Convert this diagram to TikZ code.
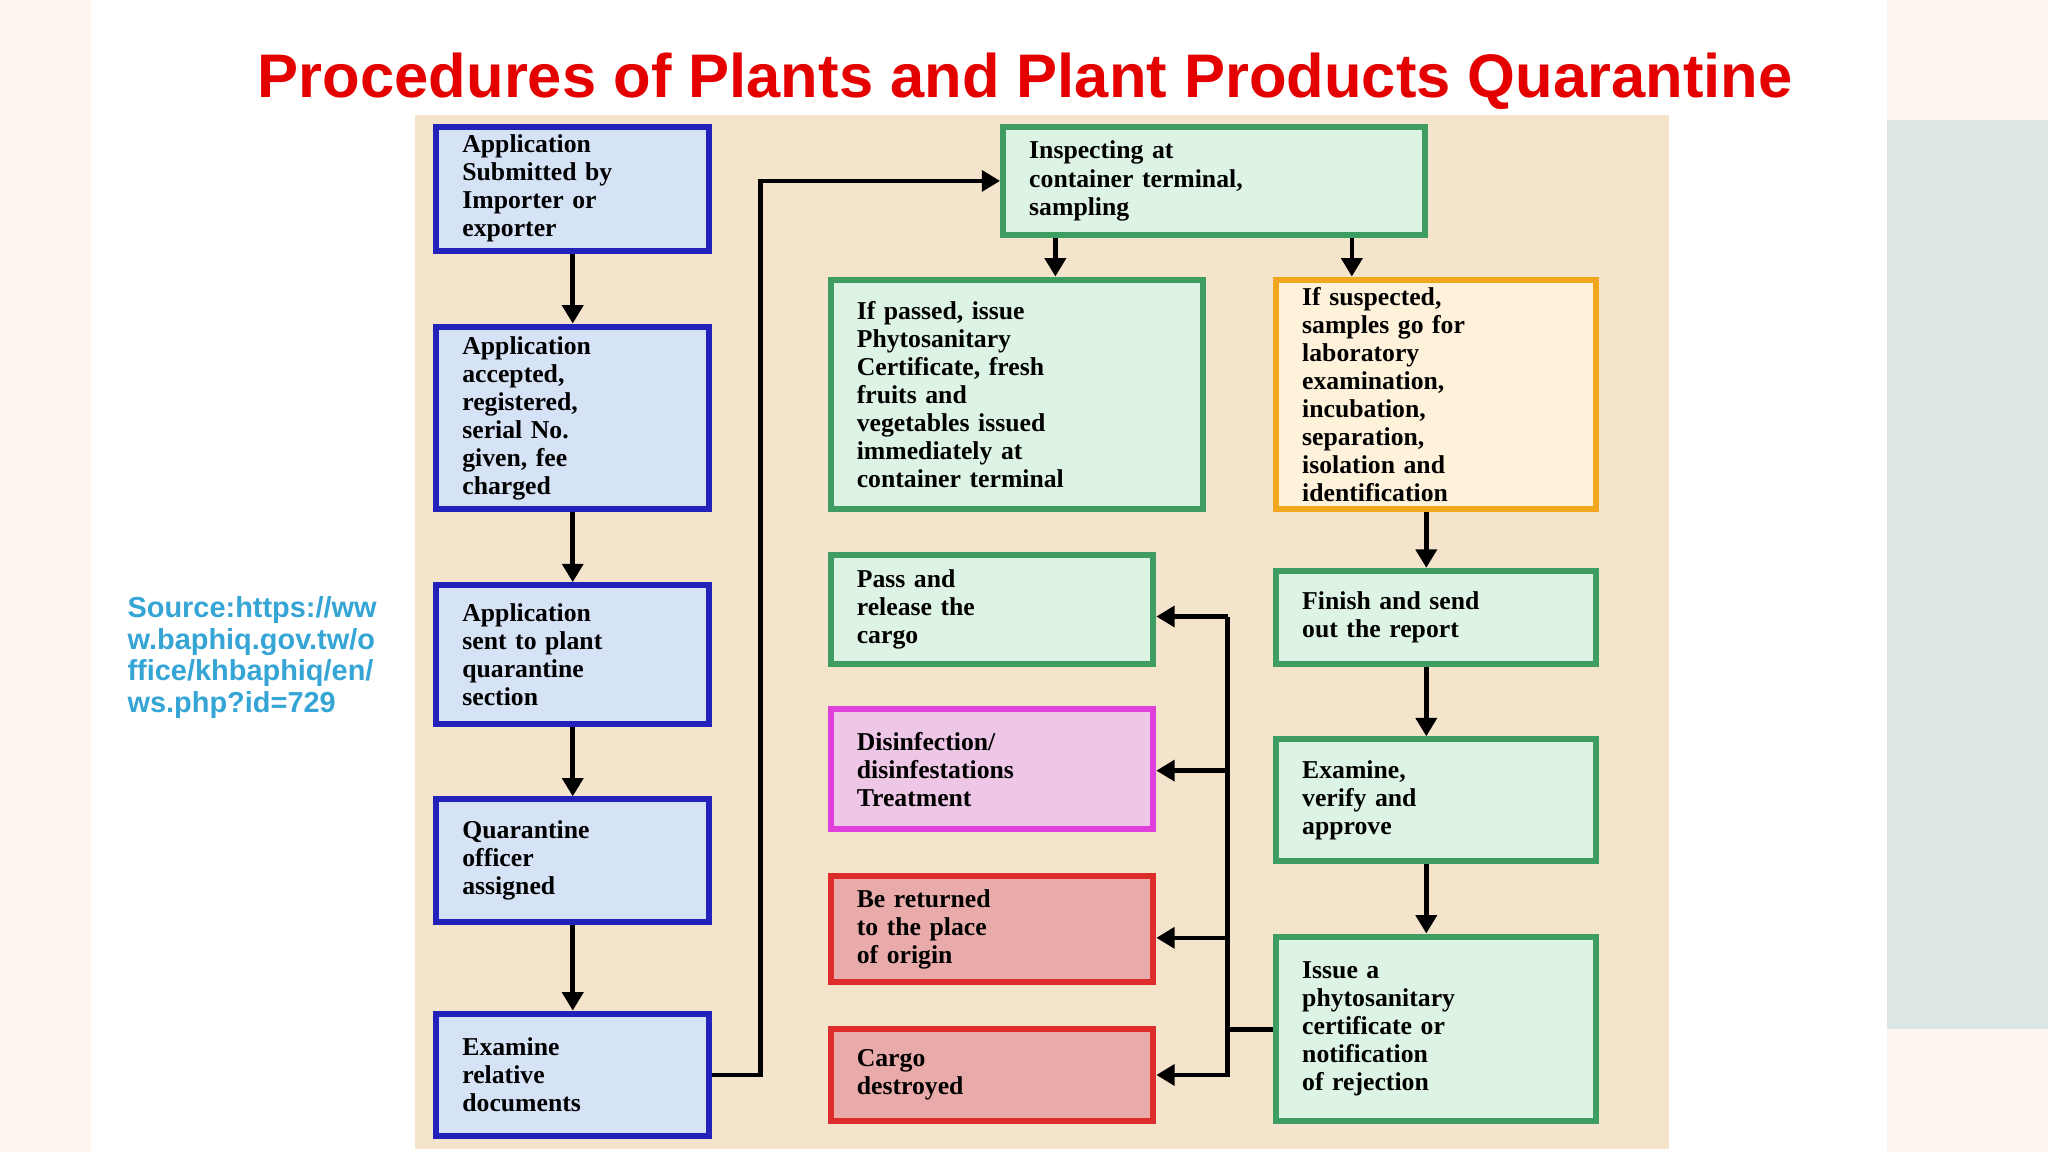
\documentclass[tikz,border=0pt]{standalone}
\usepackage{fontspec}
\setmainfont{Liberation Serif}
\newfontfamily\titlefont{Liberation Sans}
\usetikzlibrary{positioning, calc, arrows.meta}
\definecolor{bgpink}{HTML}{FDF5EF}
\definecolor{tanbg}{HTML}{F5E4CC}
\definecolor{panel}{HTML}{DCE6E4}
\definecolor{bblue}{HTML}{2222BB}
\definecolor{fblue}{HTML}{D6E2F6}
\definecolor{bgreen}{HTML}{3E9E62}
\definecolor{fgreen}{HTML}{DDF3E4}
\definecolor{borange}{HTML}{F2A81E}
\definecolor{forange}{HTML}{FFF2DA}
\definecolor{bmag}{HTML}{E040DC}
\definecolor{fmag}{HTML}{EEC6E6}
\definecolor{bred}{HTML}{DD2C2C}
\definecolor{fred}{HTML}{E9AAAA}
\definecolor{srccol}{HTML}{35A5D5}
\tikzset{box/.style = {draw, line width=1.3pt, align=left, inner sep=0pt,
                       font=\bfseries\fontsize{5.6}{6.1}\selectfont},
         bluebox/.style = {box, draw=bblue, fill=fblue},
         greenbox/.style = {box, draw=bgreen, fill=fgreen},
         orangebox/.style = {box, draw=borange, fill=forange},
         magbox/.style = {box, draw=bmag, fill=fmag},
         redbox/.style = {box, draw=bred, fill=fred},
         flow/.style = {line width=1pt, -{Triangle[length=4pt,width=4.5pt]}}}
% box from corner (x1,y1) to (x2,y2), y measured downwards
\newcommand{\pbox}[7]{%
  \node [#6, minimum width=#4cm-#2cm, minimum height=#5cm-#3cm,
         text width=#4cm-#2cm-0.4cm] (#1) at ({(#2+#4)/2},{-(#3+#5)/2}) {#7};}
\begin{document}
\begin{tikzpicture}[x=1cm,y=1cm]
\useasboundingbox (0,0) rectangle (15.68,-8.82);
\fill [bgpink] (0,0) rectangle (15.68,-8.82);
\fill [white] (0.70,0) rectangle (14.45,-8.82);
\fill [panel] (14.45,-0.92) rectangle (15.68,-7.88);
\fill [tanbg] (3.18,-0.88) rectangle (12.78,-8.80);

\node [font=\titlefont\bfseries\fontsize{13.4}{15}\selectfont, text=red!90!black] (title) at (7.85,-0.62)
  {Procedures of Plants and Plant Products Quarantine};
\node [font=\titlefont\bfseries\fontsize{6.3}{6.9}\selectfont, text=srccol, align=left, anchor=north west, inner sep=0pt]
  (src) at (0.97,-4.56) {Source:https://ww\\w.baphiq.gov.tw/o\\ffice/khbaphiq/en/\\ws.php?id=729};

\pbox{apply}{3.34}{0.97}{5.43}{1.92}{bluebox}{Application\\Submitted by\\Importer or\\exporter}
\pbox{accept}{3.34}{2.50}{5.43}{3.90}{bluebox}{Application\\accepted,\\registered,\\serial No.\\given, fee\\charged}
\pbox{sent}{3.34}{4.48}{5.43}{5.54}{bluebox}{Application\\sent to plant\\quarantine\\section}
\pbox{officer}{3.34}{6.12}{5.43}{7.06}{bluebox}{Quarantine\\officer\\assigned}
\pbox{docs}{3.34}{7.76}{5.43}{8.70}{bluebox}{Examine\\relative\\documents}

\pbox{inspect}{7.68}{0.97}{10.91}{1.80}{greenbox}{Inspecting at\\container terminal,\\sampling}
\pbox{passed}{6.36}{2.14}{9.21}{3.90}{greenbox}{If passed, issue\\Phytosanitary\\Certificate, fresh\\fruits and\\vegetables issued\\immediately at\\container terminal}
\pbox{suspect}{9.77}{2.14}{12.22}{3.90}{orangebox}{If suspected,\\samples go for\\laboratory\\examination,\\incubation,\\separation,\\isolation and\\identification}
\pbox{release}{6.36}{4.25}{8.83}{5.08}{greenbox}{Pass and\\release the\\cargo}
\pbox{disinf}{6.36}{5.43}{8.83}{6.35}{magbox}{Disinfection/\\disinfestations\\Treatment}
\pbox{return}{6.36}{6.71}{8.83}{7.52}{redbox}{Be returned\\to the place\\of origin}
\pbox{destroy}{6.36}{7.88}{8.83}{8.58}{redbox}{Cargo\\destroyed}
\pbox{finish}{9.77}{4.37}{12.22}{5.08}{greenbox}{Finish and send\\out the report}
\pbox{verify}{9.77}{5.66}{12.22}{6.59}{greenbox}{Examine,\\verify and\\approve}
\pbox{issue}{9.77}{7.17}{12.22}{8.58}{greenbox}{Issue a\\phytosanitary\\certificate or\\notification\\of rejection}

\draw [flow] (apply) -- (accept);
\draw [flow] (accept) -- (sent);
\draw [flow] (sent) -- (officer);
\draw [flow] (officer) -- (docs);
\draw [flow] (docs.east) -- ++(0.37,0) |- (inspect.west);
\draw [flow] (inspect.south -| 8.08,0) -- (passed.north -| 8.08,0);
\draw [flow] (inspect.south -| 10.35,0) -- (suspect.north -| 10.35,0);
\draw [flow] (suspect.south -| 10.92,0) -- (finish.north -| 10.92,0);
\draw [flow] (finish.south -| 10.92,0) -- (verify.north -| 10.92,0);
\draw [flow] (verify.south -| 10.92,0) -- (issue.north -| 10.92,0);
\coordinate (bus) at (9.40,-7.88);
\coordinate (bustop) at (9.40,-4.72);
\draw [line width=1pt] (issue.west |- bus) -- (bus) -- (bustop);
\draw [flow] (bustop) -- (release.east |- bustop);
\draw [flow] (bus |- 0,-5.90) -- (disinf.east |- 0,-5.90);
\draw [flow] (bus |- 0,-7.18) -- (return.east |- 0,-7.18);
\draw [flow] (bus) |- (destroy.east |- 0,-8.23);
\end{tikzpicture}
\end{document}
